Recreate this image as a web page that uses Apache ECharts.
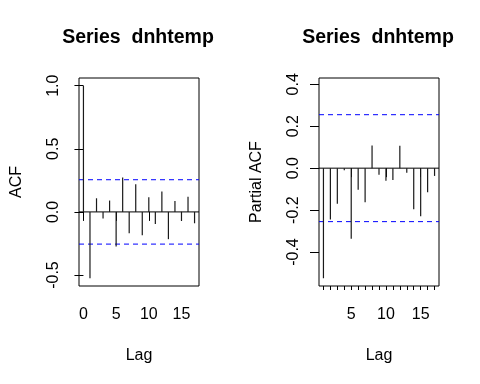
<!DOCTYPE html>
<html>
<head>
<meta charset="utf-8">
<script src="https://cdn.jsdelivr.net/npm/echarts@6/dist/echarts.min.js"></script>
<style>
html,body{margin:0;padding:0;background:#fff;}
#chart{width:480px;height:384px;}
</style>
</head>
<body>
<div id="chart"></div>
<script>
// ---- data ----
const titleText = 'Series  dnhtemp';
const acfLags = [0,1,2,3,4,5,6,7,8,9,10,11,12,13,14,15,16,17];
const acfValues = [1.0,-0.525,0.108,-0.053,0.090,-0.274,0.272,-0.169,0.219,-0.185,0.116,-0.095,0.161,-0.216,0.087,-0.071,0.121,-0.090];
const pacfLags = [1,2,3,4,5,6,7,8,9,10,11,12,13,14,15,16,17];
const pacfValues = [-0.525,-0.245,-0.170,-0.010,-0.337,-0.103,-0.162,0.108,-0.032,-0.060,-0.057,0.107,-0.022,-0.196,-0.229,-0.115,-0.037];
const ciLevel = 0.255;
const refLevels = [0, ciLevel, -ciLevel];
const acfXTicks = [0,5,10,15];
const acfYTicks = [-0.5,0,0.5,1.0];
const pacfXTicks = [5,10,15];
const pacfXMinorTicks = [1,2,3,4,5,6,7,8,9,10,11,12,13,14,15,16,17];
const pacfYTicks = [-0.4,-0.2,0,0.2,0.4];

const FONT = 'Liberation Sans, Arial, Helvetica, sans-serif';
const chart = echarts.init(document.getElementById('chart'), null, {renderer:'canvas'});

function spikeSeries(xi, yi, lags, vals) {
  return {
    type: 'custom',
    xAxisIndex: xi, yAxisIndex: yi,
    data: lags.map((l, i) => [l, vals[i]]),
    encode: {x: 0, y: 1},
    clip: false,
    z: 3,
    renderItem: function (params, api) {
      const x = api.value(0), y = api.value(1);
      const p0 = api.coord([x, 0]);
      const p1 = api.coord([x, y]);
      return {type: 'line', shape: {x1: p0[0], y1: p0[1], x2: p1[0], y2: p1[1]},
              style: {stroke: '#1a1a1a', lineWidth: 1.2}};
    }
  };
}

// horizontal reference lines (zero line and confidence bounds) across the plot box
function refSeries(xi, yi) {
  return {
    type: 'custom',
    xAxisIndex: xi, yAxisIndex: yi,
    data: refLevels.map(v => [1, v]),
    encode: {x: 0, y: 1},
    clip: false,
    z: 2,
    renderItem: function (params, api) {
      const y = api.value(1);
      const cs = params.coordSys;
      const py = api.coord([api.value(0), y])[1];
      const isZero = y === 0;
      return {type: 'line',
              shape: {x1: cs.x, y1: py, x2: cs.x + cs.width, y2: py},
              style: {stroke: isZero ? '#000' : '#0000ff', lineWidth: 1,
                      lineDash: isZero ? null : [5, 4]}};
    }
  };
}

function xAxisMain(gi, min, max, ticks, withName) {
  return {
    type: 'value', gridIndex: gi, position: 'bottom', min: min, max: max,
    splitLine: {show: false}, axisLine: {show: false},
    axisTick: {show: true, inside: false, length: 9, customValues: ticks, lineStyle: {color: '#000', width: 1}},
    axisLabel: {show: true, customValues: ticks, margin: 21, color: '#000', fontSize: 16, fontFamily: FONT,
                formatter: v => String(v)},
    name: withName ? 'Lag' : '', nameLocation: 'middle', nameGap: 62,
    nameTextStyle: {color: '#000', fontSize: 16, fontFamily: FONT}
  };
}

function yAxisMain(gi, min, max, ticks, name) {
  return {
    type: 'value', gridIndex: gi, position: 'left', min: min, max: max,
    splitLine: {show: false}, axisLine: {show: false},
    axisTick: {show: true, inside: false, length: 9, customValues: ticks, lineStyle: {color: '#000', width: 1}},
    axisLabel: {show: true, customValues: ticks, rotate: 90, margin: 17, color: '#000', fontSize: 16, fontFamily: FONT,
                formatter: v => v.toFixed(1)},
    name: name, nameLocation: 'middle', nameGap: 54,
    nameTextStyle: {color: '#000', fontSize: 16, fontFamily: FONT}
  };
}

const minorX = {
  type: 'value', gridIndex: 1, position: 'bottom', min: 0.36, max: 17.64,
  splitLine: {show: false}, axisLine: {show: false},
  axisTick: {show: true, inside: false, length: 4, customValues: pacfXMinorTicks, lineStyle: {color: '#000'}},
  axisLabel: {show: false}
};

const option = {
  backgroundColor: '#fff',
  animation: false,
  title: [
    {text: titleText, left: 138, top: 28, padding: 0, textAlign: 'center',
     textStyle: {fontSize: 19.5, fontWeight: 'bold', color: '#000', fontFamily: FONT}},
    {text: titleText, left: 378, top: 28, padding: 0, textAlign: 'center',
     textStyle: {fontSize: 19.5, fontWeight: 'bold', color: '#000', fontFamily: FONT}}
  ],
  grid: [
    {left: 79, top: 78, width: 120, height: 208, show: true, borderColor: '#000', borderWidth: 1, backgroundColor: 'transparent'},
    {left: 319, top: 78, width: 120, height: 208, show: true, borderColor: '#000', borderWidth: 1, backgroundColor: 'transparent'}
  ],
  xAxis: [
    xAxisMain(0, -0.68, 17.68, acfXTicks, true),
    xAxisMain(1, 0.36, 17.64, pacfXTicks, true),
    minorX
  ],
  yAxis: [
    yAxisMain(0, -0.587, 1.061, acfYTicks, 'ACF'),
    yAxisMain(1, -0.562, 0.430, pacfYTicks, 'Partial ACF')
  ],
  series: [
    refSeries(0, 0),
    refSeries(1, 1),
    spikeSeries(0, 0, acfLags, acfValues),
    spikeSeries(1, 1, pacfLags, pacfValues)
  ]
};
chart.setOption(option);
</script>
</body>
</html>
